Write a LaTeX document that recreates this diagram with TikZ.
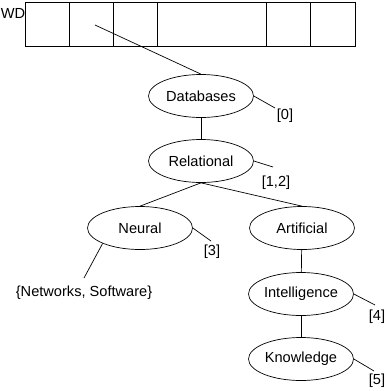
\documentclass[tikz,border=0pt]{standalone}
\usepackage{fontspec}
\setmainfont{Liberation Sans}
\usepackage{tikz}
\usetikzlibrary{shapes.geometric}
\tikzset{
  term/.style={draw, ellipse, minimum width=105pt, minimum height=43pt, inner sep=0pt},
  idx/.style={inner sep=0pt},
}

\begin{document}
\begin{tikzpicture}[x=1pt, y=-1pt, line width=0.7pt, font=\fontsize{14.6}{17}\selectfont]
  \useasboundingbox (0,0) rectangle (387,391);
  % WD array
  \draw (25,2) rectangle (355,46);
  \foreach \x in {69,113,157,266,310}
    \draw (\x,2) -- (\x,46);
  \node[idx] (wd) at (13,13) {WD};
  \coordinate (ptr) at (95,25);

  % tree nodes
  \node[term] (db) at (201,96) {Databases};
  \node[term] (rel) at (201,161) {Relational};
  \node[term] (neu) at (140,228) {Neural};
  \node[term] (art) at (302,228) {Artificial};
  \node[term] (int) at (301,294) {Intelligence};
  \node[term] (kno) at (301,359) {Knowledge};
  \node[idx] (set) at (84,293) {\{Networks, Software\}};

  % postings
  \node[idx] (p0) at (285,116) {[0]};
  \node[idx] (p12) at (276,183) {[1,2]};
  \node[idx] (p3) at (212,252) {[3]};
  \node[idx] (p4) at (377,317) {[4]};
  \node[idx] (p5) at (377,381) {[5]};
  \coordinate (e0) at (275,108);
  \coordinate (e12) at (273,167);
  \coordinate (e3) at (211,241);
  \coordinate (e4) at (375,305);
  \coordinate (e5) at (374,371);
  \coordinate (eset) at (84,278);

  \draw (ptr) -- (db.north);
  \draw (db) -- (rel);
  \draw (rel.south) -- (neu.north);
  \draw (rel.south) -- (art.north);
  \draw (art) -- (int);
  \draw (int) -- (kno);
  \draw (neu.south west) -- (eset);
  \draw (db.east) -- (e0);
  \draw (rel.east) -- (e12);
  \draw (neu.east) -- (e3);
  \draw (int.east) -- (e4);
  \draw (kno.east) -- (e5);
\end{tikzpicture}
\end{document}
